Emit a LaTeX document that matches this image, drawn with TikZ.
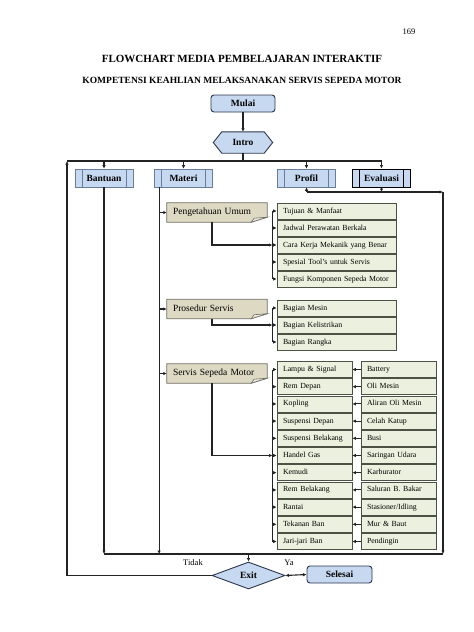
\documentclass[tikz,border=0pt]{standalone}
\usepackage{fontspec}
\setmainfont{Liberation Serif}
\usetikzlibrary{arrows.meta,shapes.geometric,calc}
\pgfdeclarelayer{paper}
\pgfdeclarelayer{background}
\pgfsetlayers{paper,background,main}
\definecolor{bluefill}{RGB}{198,217,241}
\definecolor{blueline}{RGB}{45,55,75}
\definecolor{subline}{RGB}{105,125,155}
\definecolor{docfill}{RGB}{221,217,195}
\definecolor{docline}{RGB}{110,110,100}
\definecolor{flapfill}{RGB}{236,234,222}
\definecolor{listfill}{RGB}{235,241,222}
\definecolor{listline}{RGB}{75,82,68}
\definecolor{linec}{RGB}{35,35,35}
\begin{document}
\begin{tikzpicture}[x=1pt,y=-1pt,
  conn/.style={draw=linec,line width=1.1pt},
  arr/.style={conn,-{Latex[length=3.5pt,width=3.5pt]}},
  termbox/.style={draw=blueline,fill=bluefill,line width=0.9pt,rounded corners=3pt,
    minimum width=64pt,minimum height=17pt,inner sep=0pt,text height=6.6pt,text depth=0.4pt,
    font=\bfseries\fontsize{9.5}{11}\selectfont},
  subbox/.style={draw=subline,fill=bluefill,line width=0.8pt,minimum width=58pt,minimum height=18pt,
    inner sep=0pt,text height=6.6pt,text depth=0.4pt,font=\bfseries\fontsize{9.5}{11}\selectfont,
    path picture={\draw[subline,line width=0.8pt]
      ([xshift=7pt]path picture bounding box.north west) -- ([xshift=7pt]path picture bounding box.south west)
      ([xshift=-7pt]path picture bounding box.north east) -- ([xshift=-7pt]path picture bounding box.south east);}},
  evalbox/.style={subbox,draw=black,line width=1pt,
    path picture={\draw[black,line width=1pt]
      ([xshift=7pt]path picture bounding box.north west) -- ([xshift=7pt]path picture bounding box.south west)
      ([xshift=-7pt]path picture bounding box.north east) -- ([xshift=-7pt]path picture bounding box.south east);}},
  doctext/.style={minimum width=100pt,minimum height=19pt,inner xsep=6pt,inner ysep=0pt,
    text width=88pt,align=left,text height=7.5pt,text depth=3.5pt,font=\fontsize{9.5}{11}\selectfont},
  docshape/.style={draw=docline,fill=docfill,line width=0.8pt},
  listbox/.style={draw=listline,fill=listfill,line width=0.8pt,minimum width=119pt,minimum height=16pt,
    inner xsep=6pt,inner ysep=0pt,text width=107pt,align=left,text height=5.6pt,text depth=1.6pt,
    font=\fontsize{7.8}{9}\selectfont},
  smallbox/.style={listbox,minimum width=75pt,text width=63pt},
  lbl/.style={font=\fontsize{8.5}{10}\selectfont,inner sep=0pt}
]
\useasboundingbox (0,0) rectangle (474,632);
\begin{pgfonlayer}{paper}
\fill[white] (0,0) rectangle (474,632);
\end{pgfonlayer}

% titles
\node[lbl] (page) at (409,32) {169};
\node[font=\bfseries\fontsize{11}{13}\selectfont,inner sep=0pt] (title) at (242,59) {FLOWCHART MEDIA PEMBELAJARAN INTERAKTIF};
\node[font=\bfseries\fontsize{9.5}{11}\selectfont,inner sep=0pt] (subtitle) at (242,80) {KOMPETENSI KEAHLIAN MELAKSANAKAN SERVIS SEPEDA MOTOR};

% top nodes
\node[termbox] (mulai) at (243,103.5) {Mulai};
\node[minimum width=42pt,minimum height=21pt,inner sep=0pt,text height=6.6pt,text depth=0.4pt,
  font=\bfseries\fontsize{9.5}{11}\selectfont] (intro) at (243,142.5) {Intro};
\begin{pgfonlayer}{background}
\filldraw[draw=blueline,fill=bluefill,line width=0.9pt] (intro.north west) -- (intro.north east) -- ($(intro.east)+(8.5,0)$) -- (intro.south east) -- (intro.south west) -- ($(intro.west)+(-8.5,0)$) -- cycle;
\end{pgfonlayer}

\node[subbox] (bantuan) at (104,178) {Bantuan};
\node[subbox] (materi) at (183.5,178) {Materi};
\node[subbox] (profil) at (306.5,178) {Profil};
\node[evalbox] (evaluasi) at (381.5,178) {Evaluasi};

% documents
\node[doctext] (peng) at (217,212.5) {Pengetahuan Umum};
\node[doctext] (pros) at (217,309) {Prosedur Servis};
\node[doctext] (serv) at (217,373.5) {Servis Sepeda Motor};
\begin{pgfonlayer}{background}
\foreach \n in {peng,pros,serv}{
  \filldraw[docshape] (\n.north west) -- (\n.north east) -- ([yshift=5pt]\n.south east) -- ([xshift=-16pt]\n.south east) -- (\n.south west) -- cycle;
  \filldraw[draw=docline,fill=flapfill,line width=0.6pt] ([xshift=-16pt]\n.south east) -- ([xshift=-13pt,yshift=4pt]\n.south east) -- ([yshift=5pt]\n.south east) -- cycle;
}
\end{pgfonlayer}

% list: pengetahuan umum
\node[listbox] (t1) at (336.5,211) {Tujuan \& Manfaat};
\node[listbox] (t2) at (336.5,228) {Jadwal Perawatan Berkala};
\node[listbox] (t3) at (336.5,245) {Cara Kerja Mekanik yang Benar};
\node[listbox] (t4) at (336.5,262) {Spesial Tool’s untuk Servis};
\node[listbox] (t5) at (336.5,279) {Fungsi Komponen Sepeda Motor};

% list: prosedur servis
\node[listbox] (p1) at (336.5,308) {Bagian Mesin};
\node[listbox] (p2) at (336.5,325) {Bagian Kelistrikan};
\node[listbox] (p3) at (336.5,342) {Bagian Rangka};

% list: servis sepeda motor
\foreach \i/\a/\b in {0/Lampu \& Signal/Battery,1/Rem Depan/Oli Mesin,2/Kopling/Aliran Oli Mesin,
  3/Suspensi Depan/Celah Katup,4/Suspensi Belakang/Busi,5/Handel Gas/Saringan Udara,
  6/Kemudi/Karburator,7/Rem Belakang/Saluran B. Bakar,8/Rantai/{Stasioner/Idling},
  9/Tekanan Ban/Mur \& Baut,10/Jari-jari Ban/Pendingin}{
  \node[smallbox] (l\i) at (314.5,369.5+17.2*\i) {\a};
  \node[smallbox] (r\i) at (398.5,369.5+17.2*\i) {\b};
  \draw[arr] (r\i.west) -- (l\i.east);
}

% bottom nodes
\node[diamond,draw=blueline,fill=bluefill,line width=0.9pt,minimum width=73pt,minimum height=27pt,
  aspect=2.7,inner sep=1pt,font=\bfseries\fontsize{9.5}{11}\selectfont] (exit) at (248.5,575.5) {Exit};
\node[termbox,minimum width=65pt] (selesai) at (339.5,574.5) {Selesai};
\node[lbl] (tidak) at (193,563) {Tidak};
\node[lbl] (ya) at (289,563) {Ya};

% helper coordinates
\coordinate (tl) at (67,161);
\coordinate (tr) at (381.5,161);
\coordinate (bot) at (0,554);
\coordinate (rr) at (443,192);
\coordinate (bx) at (272.5,0);
\coordinate (mtop) at ([xshift=5pt]materi.south west);

% connectors
\draw[arr] (mulai.south) -- (intro.north);
\draw[conn] (intro.south) -- (intro.south |- tl);
\draw[conn] (tl) -- (tr);
\foreach \n in {bantuan,materi,profil,evaluasi}{
  \draw[arr] (\n.north |- tl) -- (\n.north);
}
\draw[arr] (exit.west) -| (tl);
\draw[arr] (bantuan.south) -- (bantuan.south |- bot);
\draw[arr] (mtop) -- (mtop |- bot);
\draw[arr] (profil.south |- rr) -- (profil.south);
\draw[arr] (evaluasi.south) -- (evaluasi.south |- rr);
\draw[arr] (profil.south |- rr) -- (rr);
\draw[arr] (rr) -- (rr |- bot);
\draw[conn] (bantuan.south |- bot) -- (rr |- bot);
\draw[arr] (exit.north |- bot) -- (exit.north);
\draw[conn,{Latex[length=3.5pt,width=3.5pt]}-{Latex[length=3.5pt,width=3.5pt]}] (exit.east) -- (selesai.west);

% materi branches
\draw[arr] (mtop |- peng.west) -- (peng.west);
\draw[arr] (mtop |- pros.west) -- (pros.west);
\draw[arr] (mtop |- serv.west) -- (serv.west);

% brackets
\draw[conn] (bx |- t1.west) -- (bx |- t5.west);
\foreach \n in {t1,t2,t3,t4,t5}{\draw[arr] (bx |- \n.west) -- (\n.west);}
\draw[arr] ([xshift=-5pt]peng.south) |- (bx |- t3.west);

\draw[conn] (bx |- p1.west) -- (bx |- p3.west);
\foreach \n in {p1,p2,p3}{\draw[arr] (bx |- \n.west) -- (\n.west);}
\draw[arr] ([xshift=-5pt]pros.south) |- (bx |- p2.west);

\draw[conn] (bx |- l0.west) -- (bx |- l10.west);
\foreach \i in {0,...,10}{\draw[arr] (bx |- l\i.west) -- (l\i.west);}
\draw[arr] ([xshift=-5pt]serv.south) |- (bx |- l5.west);
\end{tikzpicture}
\end{document}
